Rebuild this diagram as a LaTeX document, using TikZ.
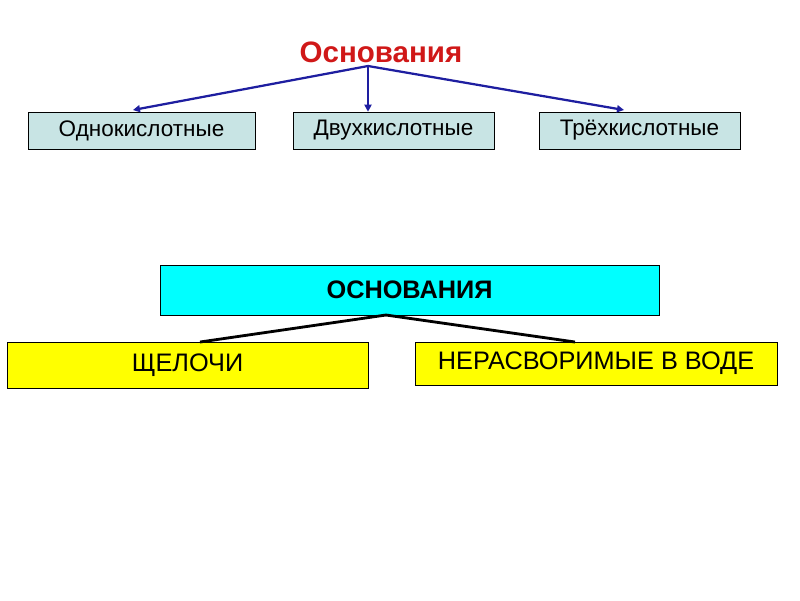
\documentclass[tikz,border=0pt]{standalone}
\usepackage{fontspec}
\setmainfont{Liberation Sans}
\usetikzlibrary{arrows.meta}
\definecolor{boxteal}{HTML}{C8E4E4}
\definecolor{arrowblue}{HTML}{1E1EA0}
\definecolor{titlered}{HTML}{D01818}
\definecolor{brightcyan}{HTML}{00FFFF}
\definecolor{brightyellow}{HTML}{FFFF00}
\begin{document}
\begin{tikzpicture}[x=0.025cm,y=-0.025cm,
    kind/.style = {draw, fill=boxteal, minimum width=#1*0.025cm, minimum height=37*0.025cm,
      inner sep=0pt, font=\fontsize{16}{18}\selectfont},
    group/.style = {draw, fill=#1, inner sep=0pt, font=\fontsize{18}{20}\selectfont},
    pointer/.style = {draw=arrowblue, line width=1.6pt, -{Triangle[length=5pt,width=5pt]}},
    link/.style = {draw, line width=2pt}]
  \useasboundingbox (0,0) rectangle (800,600);
  % upper scheme
  \node[text=titlered, font=\bfseries\fontsize{21}{24}\selectfont] (title) at (381,52) {Основания};
  \coordinate (fork) at (368,66);
  \node[kind=227] (one) at (141.5,130.5) {Однокислотные};
  \node[kind=201] (two) at (393.5,130.5) {Двухкислотные};
  \node[kind=201] (three) at (639.5,130.5) {Трёхкислотные};
  \draw[pointer] (fork) -- (133,110);
  \draw[pointer] (fork) -- (two.north -| fork);
  \draw[pointer] (fork) -- (624,110);
  % lower scheme
  \node[group=brightcyan, minimum width=499*0.025cm, minimum height=50*0.025cm] (bases) at (409.5,290) {\bfseries ОСНОВАНИЯ};
  \node[group=brightyellow, minimum width=361*0.025cm, minimum height=46*0.025cm] (alkali) at (187.5,365) {ЩЕЛОЧИ};
  \node[group=brightyellow, minimum width=362*0.025cm, minimum height=43*0.025cm] (insol) at (596,363.5) {НЕРАСВОРИМЫЕ В ВОДЕ};
  \coordinate (split) at (386,315);
  \draw[link] (split) -- (200,342);
  \draw[link] (split) -- (575,342);
\end{tikzpicture}
\end{document}
